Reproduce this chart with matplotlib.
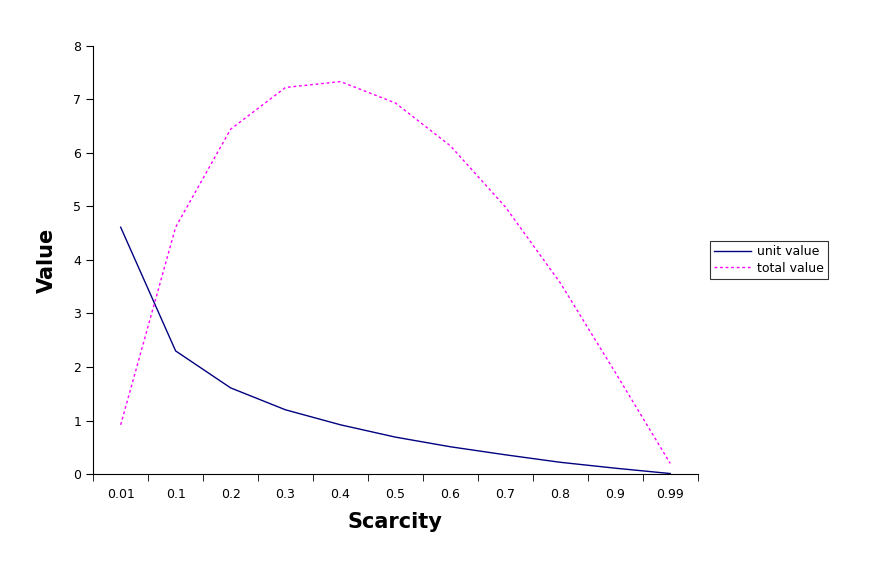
import numpy as np
from matplotlib import pyplot as plt

categories = ['0.01', '0.1', '0.2', '0.3', '0.4', '0.5', '0.6', '0.7', '0.8', '0.9', '0.99']
unit_value = [4.61, 2.30, 1.61, 1.20, 0.92, 0.69, 0.51, 0.36, 0.22, 0.11, 0.01]
total_value = [0.92, 4.61, 6.44, 7.22, 7.33, 6.93, 6.13, 4.99, 3.57, 1.90, 0.20]

fig = plt.figure(figsize=(8.71, 5.86), dpi=100)
ax = fig.add_axes([0.107, 0.191, 0.694, 0.731])

x = np.arange(len(categories))
ax.plot(x, unit_value, color='#000080', lw=1, label='unit value')
ax.plot(x, total_value, color='#ff00ff', lw=1, ls=(0, (2, 2)), label='total value')

ax.set_xlim(-0.5, len(categories) - 0.5)
ax.set_ylim(0, 8)
ax.set_yticks(range(0, 9))
ax.set_xticks(x)
ax.set_xticklabels(categories)
ax.tick_params(axis='x', length=0, pad=10, labelsize=9)
ax.set_xticks(np.arange(-0.5, len(categories)), minor=True)
ax.tick_params(axis='x', which='minor', length=5, direction='out')
ax.tick_params(axis='y', length=5, direction='out', labelsize=9)
for s in ['top', 'right']:
    ax.spines[s].set_visible(False)

ax.set_xlabel('Scarcity', fontsize=15, fontweight='bold', labelpad=8)
ax.set_ylabel('Value', fontsize=15, fontweight='bold', labelpad=12)

leg = ax.legend(loc='center left', bbox_to_anchor=(1.01, 0.5), fancybox=False,
                edgecolor='black', fontsize=9, handlelength=3, borderpad=0.3,
                handletextpad=0.5, labelspacing=0.3)
leg.get_frame().set_linewidth(0.8)

plt.savefig('out.png', dpi=100)
